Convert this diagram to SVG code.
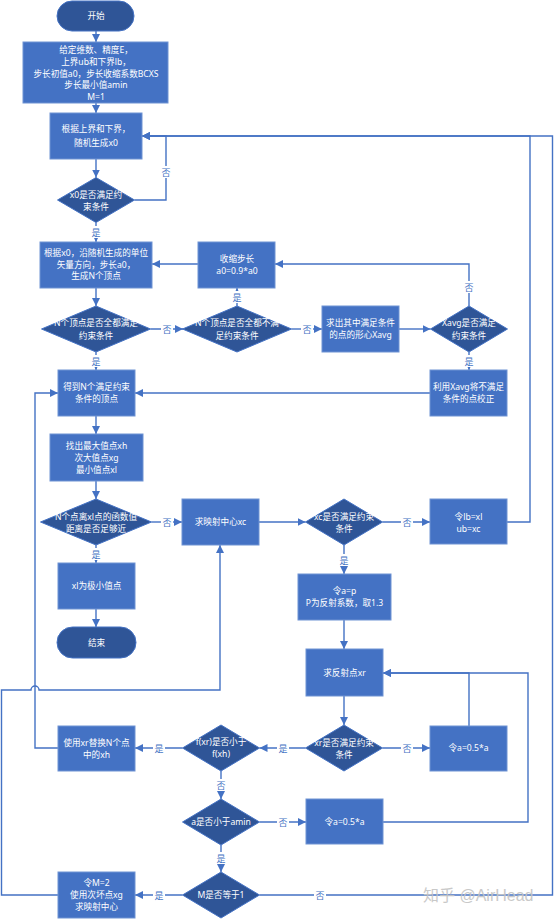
<svg xmlns="http://www.w3.org/2000/svg" width="554" height="919" viewBox="0 0 554 919">
<defs>
<style>
.box{fill:#4472C4;stroke:#6F93D3;stroke-width:1}
.dia{fill:#2F5597;stroke:#4472C4;stroke-width:1}
.term{fill:#2F5597;stroke:#4472C4;stroke-width:1}
.t{fill:#FFFFFF;font-family:"Noto Sans","Noto Sans CJK SC",sans-serif;font-size:8.6px;text-anchor:middle}
.ln{fill:none;stroke:#4472C4;stroke-width:1.4}
.lb{fill:#4472C4;font-family:"Noto Sans","Noto Sans CJK SC",sans-serif;font-size:9px;text-anchor:middle}
.lbg{fill:#FFFFFF}
.wm{fill:#C4C4C4;font-family:"Liberation Sans","Noto Sans CJK SC",sans-serif;font-size:16px;opacity:0.9}
</style>
<marker id="ah" viewBox="0 0 10 10" refX="10" refY="5" markerWidth="8" markerHeight="8" markerUnits="userSpaceOnUse" orient="auto">
<path d="M0,0 L10,5 L0,10 z" fill="#4472C4"/>
</marker>
</defs>
<rect x="0" y="0" width="554" height="919" fill="#FFFFFF"/>

<g id="connectors">
<path class="ln" d="M96,31 V42" marker-end="url(#ah)"/>
<path class="ln" d="M96,103 V113" marker-end="url(#ah)"/>
<path class="ln" d="M96,159 V177.5" marker-end="url(#ah)"/>
<path class="ln" d="M134.5,200 H166 V136 H142" marker-end="url(#ah)"/>
<path class="ln" d="M96,222.5 V242" marker-end="url(#ah)"/>
<path class="ln" d="M96,288 V306" marker-end="url(#ah)"/>
<path class="ln" d="M150.5,329 H183" marker-end="url(#ah)"/>
<path class="ln" d="M96,352 V370" marker-end="url(#ah)"/>
<path class="ln" d="M237,306 V288" marker-end="url(#ah)"/>
<path class="ln" d="M198,264 H152" marker-end="url(#ah)"/>
<path class="ln" d="M291.5,329 H322" marker-end="url(#ah)"/>
<path class="ln" d="M399,329 H430.5" marker-end="url(#ah)"/>
<path class="ln" d="M469,306 V264 H275" marker-end="url(#ah)"/>
<path class="ln" d="M469,352 V370" marker-end="url(#ah)"/>
<path class="ln" d="M430,393 H135" marker-end="url(#ah)"/>
<path class="ln" d="M96,416 V434" marker-end="url(#ah)"/>
<path class="ln" d="M96,481 V499" marker-end="url(#ah)"/>
<path class="ln" d="M151.5,522 H182" marker-end="url(#ah)"/>
<path class="ln" d="M96,545 V563" marker-end="url(#ah)"/>
<path class="ln" d="M96,609 V627" marker-end="url(#ah)"/>
<path class="ln" d="M259,522 H305.5" marker-end="url(#ah)"/>
<path class="ln" d="M382.5,522 H430" marker-end="url(#ah)"/>
<path class="ln" d="M507,522 H530 V136 H142" marker-end="url(#ah)"/>
<path class="ln" d="M344,545 V574" marker-end="url(#ah)"/>
<path class="ln" d="M344,620 V649" marker-end="url(#ah)"/>
<path class="ln" d="M344,696 V725" marker-end="url(#ah)"/>
<path class="ln" d="M382.5,748 H430" marker-end="url(#ah)"/>
<path class="ln" d="M469,726 V673 H383" marker-end="url(#ah)"/>
<path class="ln" d="M305.5,748 H259.5" marker-end="url(#ah)"/>
<path class="ln" d="M182.5,748 H135" marker-end="url(#ah)"/>
<path class="ln" d="M58,748 H35 V393 H58" marker-end="url(#ah)"/>
<path class="ln" d="M221,771 V799" marker-end="url(#ah)"/>
<path class="ln" d="M259.5,822 H306" marker-end="url(#ah)"/>
<path class="ln" d="M383,822 H528 V673 H383" marker-end="url(#ah)"/>
<path class="ln" d="M221,845 V872" marker-end="url(#ah)"/>
<path class="ln" d="M182.5,895 H135" marker-end="url(#ah)"/>
<path class="ln" d="M58,895 H1.5 V690 H31 A4,4 0 0 1 39,690 H220 V545" marker-end="url(#ah)"/>
<path class="ln" d="M259.5,895 H552.5 V136 H142" marker-end="url(#ah)"/>

<rect class="lbg" x="160" y="166" width="12" height="12"/><text class="lb" x="166" y="175.5">否</text>
<rect class="lbg" x="90" y="226" width="12" height="12"/><text class="lb" x="96" y="235.5">是</text>
<rect class="lbg" x="161" y="323" width="12" height="12"/><text class="lb" x="167" y="332.5">否</text>
<rect class="lbg" x="90" y="355" width="12" height="12"/><text class="lb" x="96" y="364.5">是</text>
<rect class="lbg" x="231" y="291" width="12" height="12"/><text class="lb" x="237" y="300.5">是</text>
<rect class="lbg" x="301" y="323" width="12" height="12"/><text class="lb" x="307" y="332.5">否</text>
<rect class="lbg" x="463" y="281" width="12" height="12"/><text class="lb" x="469" y="290.5">否</text>
<rect class="lbg" x="463" y="355" width="12" height="12"/><text class="lb" x="469" y="364.5">是</text>
<rect class="lbg" x="161" y="516" width="12" height="12"/><text class="lb" x="167" y="525.5">否</text>
<rect class="lbg" x="90" y="548" width="12" height="12"/><text class="lb" x="96" y="557.5">是</text>
<rect class="lbg" x="401" y="516" width="12" height="12"/><text class="lb" x="407" y="525.5">否</text>
<rect class="lbg" x="338" y="554" width="12" height="12"/><text class="lb" x="344" y="563.5">是</text>
<rect class="lbg" x="401" y="742" width="12" height="12"/><text class="lb" x="407" y="751.5">否</text>
<rect class="lbg" x="277" y="742" width="12" height="12"/><text class="lb" x="283" y="751.5">是</text>
<rect class="lbg" x="153" y="742" width="12" height="12"/><text class="lb" x="159" y="751.5">是</text>
<rect class="lbg" x="215" y="779" width="12" height="12"/><text class="lb" x="221" y="788.5">否</text>
<rect class="lbg" x="277" y="816" width="12" height="12"/><text class="lb" x="283" y="825.5">否</text>
<rect class="lbg" x="215" y="852" width="12" height="12"/><text class="lb" x="221" y="861.5">是</text>
<rect class="lbg" x="153" y="889" width="12" height="12"/><text class="lb" x="159" y="898.5">是</text>
<rect class="lbg" x="314" y="889" width="12" height="12"/><text class="lb" x="320" y="898.5">否</text>
</g>

<g id="start"><rect class="term" x="57" y="1" width="77" height="30" rx="15" ry="15"/><text class="t" x="96" y="19">开始</text></g>
<g id="init"><rect class="box" x="23" y="42" width="145" height="61"/>
<text class="t" x="96" y="53">给定维数、精度E，</text>
<text class="t" x="96" y="65">上界ub和下界lb，</text>
<text class="t" x="96" y="76.5">步长初值a0，步长收缩系数BCXS</text>
<text class="t" x="96" y="88">步长最小值amin</text>
<text class="t" x="96" y="100">M=1</text></g>
<g id="gen_x0"><rect class="box" x="50" y="113" width="92" height="46"/>
<text class="t" x="96" y="132">根据上界和下界，</text>
<text class="t" x="96" y="146">随机生成x0</text></g>
<g id="check_x0"><polygon class="dia" points="57.5,200 96,177.5 134.5,200 96,222.5"/>
<text class="t" x="96" y="198">x0是否满足约</text>
<text class="t" x="96" y="210">束条件</text></g>
<g id="gen_n"><rect class="box" x="40" y="242" width="112" height="46"/>
<text class="t" x="96" y="256">根据x0，沿随机生成的单位</text>
<text class="t" x="96" y="267.5">矢量方向，步长a0，</text>
<text class="t" x="96" y="279">生成N个顶点</text></g>
<g id="shrink"><rect class="box" x="198" y="242" width="77" height="46"/>
<text class="t" x="237" y="262">收缩步长</text>
<text class="t" x="237" y="274">a0=0.9*a0</text></g>
<g id="check_all"><polygon class="dia" points="41.5,329 96,306 150.5,329 96,352"/>
<text class="t" x="96" y="326">N个顶点是否全都满足</text>
<text class="t" x="96" y="338.5">约束条件</text></g>
<g id="check_none"><polygon class="dia" points="182.5,329 237,306 291.5,329 237,352"/>
<text class="t" x="237" y="326">N个顶点是否全都不满</text>
<text class="t" x="237" y="338.5">足约束条件</text></g>
<g id="centroid"><rect class="box" x="322" y="306" width="77" height="46"/>
<text class="t" x="360.5" y="326">求出其中满足条件</text>
<text class="t" x="360.5" y="338">的点的形心Xavg</text></g>
<g id="check_xavg"><polygon class="dia" points="430.5,329 469,306 507.5,329 469,352"/>
<text class="t" x="469" y="326">Xavg是否满足</text>
<text class="t" x="469" y="338.5">约束条件</text></g>
<g id="fix"><rect class="box" x="430" y="370" width="77" height="46"/>
<text class="t" x="468.5" y="390">利用Xavg将不满足</text>
<text class="t" x="468.5" y="402">条件的点校正</text></g>
<g id="get_n"><rect class="box" x="58" y="370" width="77" height="46"/>
<text class="t" x="96.5" y="390">得到N个满足约束</text>
<text class="t" x="96.5" y="401.5">条件的顶点</text></g>
<g id="find"><rect class="box" x="50" y="434" width="93" height="47"/>
<text class="t" x="96.5" y="449">找出最大值点xh</text>
<text class="t" x="96.5" y="461">次大值点xg</text>
<text class="t" x="96.5" y="473">最小值点xl</text></g>
<g id="check_close"><polygon class="dia" points="40.5,522 96,499 151.5,522 96,545"/>
<text class="t" x="96" y="520">N个点离xl点的函数值</text>
<text class="t" x="96" y="531.5">距离是否足够近</text></g>
<g id="center"><rect class="box" x="182" y="499" width="77" height="46"/>
<text class="t" x="220.5" y="525">求映射中心xc</text></g>
<g id="min"><rect class="box" x="58" y="563" width="77" height="46"/>
<text class="t" x="96.5" y="589">xl为极小值点</text></g>
<g id="end"><rect class="term" x="57" y="627" width="79" height="31" rx="15.5" ry="15.5"/>
<text class="t" x="96.5" y="646">结束</text></g>
<g id="check_xc"><polygon class="dia" points="305.5,522 344,499 382.5,522 344,545"/>
<text class="t" x="344" y="520">xc是否满足约束</text>
<text class="t" x="344" y="531.5">条件</text></g>
<g id="set_lb"><rect class="box" x="430" y="499" width="77" height="45"/>
<text class="t" x="468.5" y="520">令lb=xl</text>
<text class="t" x="468.5" y="531.5">ub=xc</text></g>
<g id="set_a"><rect class="box" x="298" y="574" width="93" height="46"/>
<text class="t" x="344.5" y="594">令a=p</text>
<text class="t" x="344.5" y="606">P为反射系数，取1.3</text></g>
<g id="reflect"><rect class="box" x="306" y="649" width="77" height="47"/>
<text class="t" x="344.5" y="676">求反射点xr</text></g>
<g id="check_xr"><polygon class="dia" points="305.5,748 344,725 382.5,748 344,771"/>
<text class="t" x="344" y="746">xr是否满足约束</text>
<text class="t" x="344" y="757.5">条件</text></g>
<g id="half1"><rect class="box" x="430" y="726" width="77" height="45"/>
<text class="t" x="468.5" y="751">令a=0.5*a</text></g>
<g id="check_fxr"><polygon class="dia" points="182.5,748 221,725 259.5,748 221,771"/>
<text class="t" x="221" y="745">f(xr)是否小于</text>
<text class="t" x="221" y="756.5">f(xh)</text></g>
<g id="replace"><rect class="box" x="58" y="726" width="77" height="45"/>
<text class="t" x="96.5" y="746">使用xr替换N个点</text>
<text class="t" x="96.5" y="757.5">中的xh</text></g>
<g id="check_amin"><polygon class="dia" points="182.5,822 221,799 259.5,822 221,845"/>
<text class="t" x="221" y="825">a是否小于amin</text></g>
<g id="half2"><rect class="box" x="306" y="799" width="77" height="45"/>
<text class="t" x="344.5" y="825">令a=0.5*a</text></g>
<g id="check_m"><polygon class="dia" points="182.5,895 221,872 259.5,895 221,918"/>
<text class="t" x="221" y="898">M是否等于1</text></g>
<g id="set_m"><rect class="box" x="58" y="872" width="77" height="46"/>
<text class="t" x="96.5" y="886">令M=2</text>
<text class="t" x="96.5" y="898">使用次坏点xg</text>
<text class="t" x="96.5" y="910">求映射中心</text></g>

<text class="wm" x="423" y="901">知乎 @AirHead</text>
</svg>
